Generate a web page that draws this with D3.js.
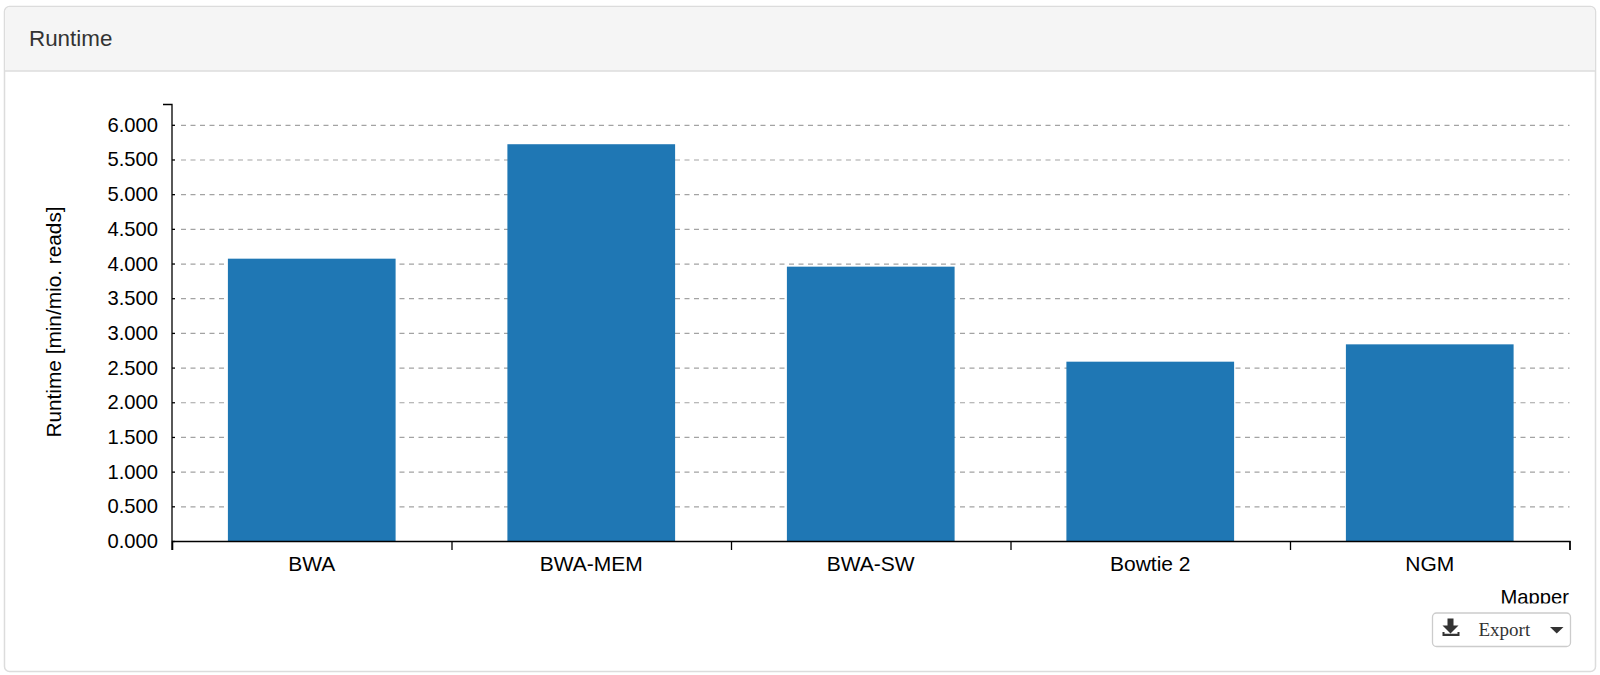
<!DOCTYPE html>
<meta charset="utf-8">
<style>
html, body { margin: 0; padding: 0; background: #fff; }
svg { display: block; }
text { font-family: "Liberation Sans", sans-serif; fill: #000; }
.axis path, .axis line { stroke: #000; stroke-width: 1.3px; fill: none; }
.axis text { font-size: 20.2px; fill: #000; }
.grid line { stroke: #a3a3a3; stroke-width: 1.2px; stroke-dasharray: 5 4.5; }
.grid path { display: none; }
</style>
<body>
<script src="https://d3js.org/d3.v7.min.js"></script>
<script>

var mappers = ["BWA", "BWA-MEM", "BWA-SW", "Bowtie 2", "NGM"];
var runtimes = [4.07, 5.72, 3.955, 2.585, 2.835];
var yTicks = [0, 0.5, 1, 1.5, 2, 2.5, 3, 3.5, 4, 4.5, 5, 5.5, 6];

var width = 1600,
    height = 675,
    left = 172,
    right = 1569.5,
    bottom = 541,
    top6 = 124.8,
    axisTop = 104.5;

var svg = d3.select("body").append("svg")
    .attr("width", width)
    .attr("height", height);

// panel
svg.append("rect")
    .attr("x", 4.5).attr("y", 6.5)
    .attr("width", 1591).attr("height", 665)
    .attr("rx", 5)
    .attr("fill", "#fff")
    .attr("stroke", "#dcdcdc")
    .attr("stroke-width", 1.5);

svg.append("path")
    .attr("d", "M5.2 71V12a5 5 0 0 1 5-5H1590a5 5 0 0 1 5 5V71Z")
    .attr("fill", "#f5f5f5");

svg.append("line")
    .attr("x1", 5).attr("x2", 1595)
    .attr("y1", 71).attr("y2", 71)
    .attr("stroke", "#dddddd")
    .attr("stroke-width", 1.5);

svg.append("text")
    .attr("x", 29).attr("y", 45.5)
    .style("font-size", "22.4px")
    .style("fill", "#333")
    .text("Runtime");

var x = d3.scaleBand()
    .domain(mappers)
    .range([left, right])
    .paddingInner(0.4)
    .paddingOuter(0.2);

var y = d3.scaleLinear()
    .domain([0, 6])
    .range([bottom, top6]);

// grid sits under the bars
svg.append("g")
    .attr("class", "grid")
    .attr("transform", "translate(" + left + ",0)")
    .call(d3.axisRight(y).tickValues(yTicks.slice(1)).tickSize(right - left).tickFormat(""))
    .selectAll("line")
    .attr("x1", 9);

svg.selectAll(".bar")
    .data(runtimes)
    .enter().append("rect")
    .attr("class", "bar")
    .attr("x", function(d, i) { return x(mappers[i]); })
    .attr("y", function(d) { return y(d); })
    .attr("width", x.bandwidth())
    .attr("height", function(d) { return bottom - y(d); })
    .attr("fill", "#1f77b4");

// x axis, ticks at band edges
var xEdges = d3.scaleLinear().domain([0, 5]).range([left, right]);

svg.append("g")
    .attr("class", "axis")
    .attr("transform", "translate(0," + bottom + ")")
    .call(d3.axisBottom(xEdges).ticks(5).tickSize(9).tickSizeOuter(9).tickFormat(""));

svg.selectAll(".xlabel")
    .data(mappers)
    .enter().append("text")
    .attr("class", "xlabel")
    .attr("x", function(d) { return x(d) + x.bandwidth() / 2; })
    .attr("y", 571)
    .attr("text-anchor", "middle")
    .style("font-size", "21px")
    .text(function(d) { return d; });

// y axis
var yAxis = svg.append("g")
    .attr("class", "axis")
    .attr("transform", "translate(" + left + ",0)")
    .call(d3.axisLeft(y).tickValues(yTicks).tickSize(9).tickSizeOuter(0).tickPadding(5)
      .tickFormat(d3.format(".3f")));

yAxis.select(".domain")
    .attr("d", "M-9," + axisTop + "H0V" + (bottom + 9));

yAxis.selectAll(".tick line").attr("x2", 3);

svg.append("text")
    .attr("transform", "translate(61,322)rotate(-90)")
    .attr("text-anchor", "middle")
    .style("font-size", "20.8px")
    .text("Runtime [min/mio. reads]");

// chart area cuts off the bottom of the x axis label
svg.append("clipPath")
    .attr("id", "chartClip")
    .append("rect")
    .attr("x", 0).attr("y", 0)
    .attr("width", 1600).attr("height", 603.5);

svg.append("g")
    .attr("clip-path", "url(#chartClip)")
    .append("text")
    .attr("x", 1569).attr("y", 604)
    .attr("text-anchor", "end")
    .style("font-size", "20.2px")
    .text("Mapper");

// export button
var btn = svg.append("g").attr("transform", "translate(1432.5,613)");

btn.append("rect")
    .attr("width", 138).attr("height", 33.5)
    .attr("rx", 4)
    .attr("fill", "#fff")
    .attr("stroke", "#cccccc")
    .attr("stroke-width", 1.3);

btn.append("path")
    .attr("d", "M15 5.5h6v7h5l-8 8-8-8h5ZM10 19v4h17v-4h-2v1.8H12V19Z")
    .attr("fill", "#333");

btn.append("text")
    .attr("x", 46).attr("y", 23)
    .style("font-family", "Liberation Serif, serif")
    .style("font-size", "19px")
    .style("fill", "#333")
    .text("Export");

btn.append("path")
    .attr("d", "M117.5 14h13.5l-6.75 6.5Z")
    .attr("fill", "#333");

</script>
